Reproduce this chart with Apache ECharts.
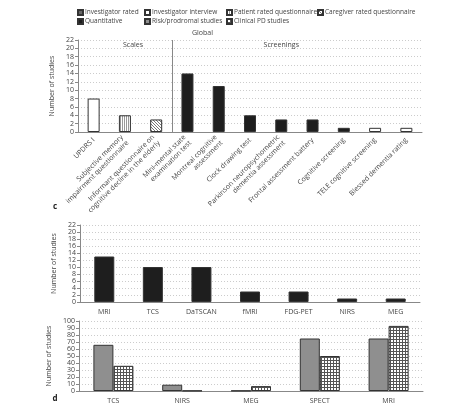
<!DOCTYPE html>
<html>
<head>
<meta charset="utf-8">
<script src="https://cdn.jsdelivr.net/npm/echarts@6/dist/echarts.min.js"></script>
<style>
html, body { margin: 0; padding: 0; background: #fff; }
#main { width: 474px; height: 412px; }
</style>
</head>
<body>
<div id="main"></div>
<script>
// panel c: scales and screenings
var cCategories = ["UPDRS I", "Subjective memory\nimpairment questionnaire", "Informant questionnaire on\ncognitive decline in the elderly",
  "Mini-mental state\nexamination test", "Montreal cognitive\nassessment", "Clock drawing test",
  "Parkinson neuropsychometric\ndementia assessment", "Frontal assessment battery", "Cognitive screening",
  "TELE cognitive screening", "Blessed dementia rating"];
var cInterview = [8, '-', '-', '-', '-', '-', '-', '-', '-', 1, 1];
var cPatient = ['-', 4, '-', '-', '-', '-', '-', '-', '-', '-', '-'];
var cCaregiver = ['-', '-', 3, '-', '-', '-', '-', '-', '-', '-', '-'];
var cQuantitative = ['-', '-', '-', 14, 11, 4, 3, 3, 1, '-', '-'];

// imaging panel
var imgCategories = ["MRI", "TCS", "DaTSCAN", "fMRI", "FDG-PET", "NIRS", "MEG"];
var imgQuantitative = [13, 10, 10, 3, 3, 1, 1];

// panel d
var dCategories = ["TCS", "NIRS", "MEG", "SPECT", "MRI"];
var dRisk = [66, 9, 0.5, 75, 75];
var dClinical = [36, 0.5, 7, 50, 93];

var FONT = "Open Sans";
var TXT = "#444";

function pattern(size, ink, draw) {
  var cv = document.createElement("canvas");
  cv.width = size; cv.height = size;
  var ctx = cv.getContext("2d");
  ctx.fillStyle = "#fff";
  ctx.fillRect(0, 0, size, size);
  ctx.fillStyle = ink;
  draw(ctx);
  return { image: cv, repeat: "repeat" };
}
// vertical stripes
var stripes = pattern(2, "#999", function (ctx) { ctx.fillRect(0, 0, 1, 2); });
// diagonal hatch
var hatch = pattern(3, "#777", function (ctx) {
  ctx.fillRect(0, 0, 1, 1); ctx.fillRect(1, 1, 1, 1); ctx.fillRect(2, 2, 1, 1);
});
// grid
var gridPat = pattern(3, "#555", function (ctx) { ctx.fillRect(0, 0, 3, 1); ctx.fillRect(0, 0, 1, 3); });

var legendPos = [
  ["Investigator rated", 77, 9], ["Investigator interview", 144, 9],
  ["Patient rated questionnaire", 226, 9], ["Caregiver rated questionnaire", 317, 9],
  ["Quantitative", 77, 18], ["Risk/prodromal studies", 144, 18], ["Clinical PD studies", 226, 18]
];
var legends = legendPos.map(function (p) {
  return {
    data: [p[0]], left: p[1], top: p[2], padding: 0, itemGap: 0,
    itemWidth: 5, itemHeight: 5, icon: "rect", selectedMode: false,
    textStyle: { fontSize: 6.5, color: TXT, fontFamily: FONT, padding: [0, 0, 0, -3] }
  };
});

function yAx(grid, max, interval) {
  return {
    type: "value", gridIndex: grid, min: 0, max: max, interval: interval,
    name: "Number of studies", nameLocation: "middle", nameGap: 18,
    nameTextStyle: { fontSize: 7, color: TXT, fontFamily: FONT },
    axisLine: { show: true, lineStyle: { color: "#888" } },
    axisTick: { show: true, length: 3, lineStyle: { color: "#888" } },
    axisLabel: { fontSize: 7, color: TXT, fontFamily: FONT, margin: 4 },
    splitLine: { lineStyle: { color: "#ccc", type: [1, 2] } }
  };
}
function xAx(grid, data, extra) {
  var ax = {
    type: "category", gridIndex: grid, data: data,
    axisLine: { lineStyle: { color: "#888" } },
    axisTick: { length: 3, lineStyle: { color: "#888" } },
    axisLabel: { fontSize: 7, color: TXT, fontFamily: FONT, margin: 6, interval: 0 }
  };
  if (extra) Object.assign(ax.axisLabel, extra);
  return ax;
}

var edge = { borderColor: "#333", borderWidth: 1 };
function style(color) { return Object.assign({ color: color }, edge); }

var chart = echarts.init(document.getElementById("main"));
chart.setOption({
  animation: false,
  legend: legends,
  grid: [
    { left: 78, right: 52, top: 40, height: 92 },
    { left: 80, right: 54, top: 225, height: 77 },
    { left: 79, right: 51, top: 321, height: 70 }
  ],
  xAxis: [
    xAx(0, cCategories, { rotate: 45, lineHeight: 8, margin: 7 }),
    xAx(1, imgCategories),
    xAx(2, dCategories)
  ],
  yAxis: [yAx(0, 22, 2), yAx(1, 22, 2), yAx(2, 100, 10)],
  series: [
    { name: "Investigator rated", type: "bar", xAxisIndex: 0, yAxisIndex: 0, stack: "c", barWidth: 12, data: [], itemStyle: style("#666") },
    { name: "Investigator interview", type: "bar", xAxisIndex: 0, yAxisIndex: 0, stack: "c", barWidth: 12, data: cInterview, itemStyle: style("#fff") },
    { name: "Patient rated questionnaire", type: "bar", xAxisIndex: 0, yAxisIndex: 0, stack: "c", barWidth: 12, data: cPatient, itemStyle: style(stripes) },
    { name: "Caregiver rated questionnaire", type: "bar", xAxisIndex: 0, yAxisIndex: 0, stack: "c", barWidth: 12, data: cCaregiver, itemStyle: style(hatch) },
    { name: "Quantitative", type: "bar", xAxisIndex: 0, yAxisIndex: 0, stack: "c", barWidth: 12, data: cQuantitative, itemStyle: style("#1e1e1e") },
    { name: "Quantitative", type: "bar", xAxisIndex: 1, yAxisIndex: 1, barWidth: 20, data: imgQuantitative, itemStyle: style("#1e1e1e") },
    { name: "Risk/prodromal studies", type: "bar", xAxisIndex: 2, yAxisIndex: 2, barWidth: 20, barGap: "0%", data: dRisk, itemStyle: style("#8f8f8f") },
    { name: "Clinical PD studies", type: "bar", xAxisIndex: 2, yAxisIndex: 2, barWidth: 20, barGap: "0%", data: dClinical, itemStyle: style(gridPat) }
  ]
});

// divider between scales and screenings, section titles
var x2 = chart.convertToPixel({ xAxisIndex: 0 }, cCategories[2]);
var x3 = chart.convertToPixel({ xAxisIndex: 0 }, cCategories[3]);
var divX = Math.round((x2 + x3) / 2) + 0.5;
var ts = { fontSize: 7, fill: TXT, fontFamily: FONT, align: "center", verticalAlign: "middle" };
chart.setOption({
  graphic: [
    { type: "line", shape: { x1: divX, y1: 40, x2: divX, y2: 132 }, style: { stroke: "#888", lineWidth: 1 } },
    { type: "text", x: divX + 30, y: 33, style: Object.assign({ text: "Global" }, ts) },
    { type: "text", x: 133, y: 45, style: Object.assign({ text: "Scales" }, ts) },
    { type: "text", x: chart.convertToPixel({ xAxisIndex: 0 }, cCategories[6]), y: 45, style: Object.assign({ text: "Screenings" }, ts) },
    { type: "text", x: 55, y: 207, style: Object.assign({}, ts, { text: "c", fontSize: 8, fontWeight: "bold", fill: "#222" }) },
    { type: "text", x: 55, y: 399, style: Object.assign({}, ts, { text: "d", fontSize: 8, fontWeight: "bold", fill: "#222" }) }
  ]
});
</script>
</body>
</html>
